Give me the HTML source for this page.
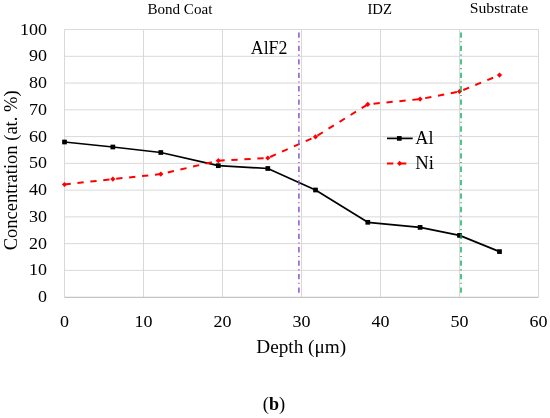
<!DOCTYPE html>
<html><head><meta charset="utf-8"><title>Concentration vs Depth</title>
<style>
html,body{margin:0;padding:0;background:#fff;overflow:hidden;}
svg{display:block;}
text{font-family:"Liberation Serif","DejaVu Serif",serif;fill:#000;}
</style></head>
<body>
<svg width="550" height="418" viewBox="0 0 550 418">
<rect width="550" height="418" fill="#fff"/>
<path d="M64.5 270.39H538.5 M64.5 243.63H538.5 M64.5 216.87H538.5 M64.5 190.11H538.5 M64.5 163.35H538.5 M64.5 136.59H538.5 M64.5 109.83H538.5 M64.5 83.07H538.5 M64.5 56.31H538.5 M64.5 29.55H538.5 M64.50 29.55V297.15 M143.50 29.55V297.15 M222.50 29.55V297.15 M301.50 29.55V297.15 M380.50 29.55V297.15 M459.50 29.55V297.15 M538.50 29.55V297.15" stroke="#d9d9d9" stroke-width="1" fill="none"/>
<path d="M64.5 297.3H538.5" stroke="#c4c4c4" stroke-width="1.2" fill="none"/>
<polyline points="64.50,142.00 112.85,147.00 160.80,152.50 218.30,165.70 267.80,168.50 315.50,190.00 367.80,222.30 420.10,227.40 459.50,235.40 499.50,251.60" fill="none" stroke="#000" stroke-width="1.7" stroke-linejoin="round"/>
<rect x="62.15" y="139.65" width="4.7" height="4.7" fill="#000"/>
<rect x="110.50" y="144.65" width="4.7" height="4.7" fill="#000"/>
<rect x="158.45" y="150.15" width="4.7" height="4.7" fill="#000"/>
<rect x="215.95" y="163.35" width="4.7" height="4.7" fill="#000"/>
<rect x="265.45" y="166.15" width="4.7" height="4.7" fill="#000"/>
<rect x="313.15" y="187.65" width="4.7" height="4.7" fill="#000"/>
<rect x="365.45" y="219.95" width="4.7" height="4.7" fill="#000"/>
<rect x="417.75" y="225.05" width="4.7" height="4.7" fill="#000"/>
<rect x="457.15" y="233.05" width="4.7" height="4.7" fill="#000"/>
<rect x="497.15" y="249.25" width="4.7" height="4.7" fill="#000"/>
<polyline points="64.50,184.50 112.85,179.10 160.80,174.10 218.30,160.70 267.80,158.00 315.50,136.80 367.80,104.30 420.10,99.10 459.50,91.50 499.50,75.10" fill="none" stroke="#ff0000" stroke-width="2" stroke-dasharray="6.3 6.7" stroke-linejoin="round"/>
<path d="M64.50 181.90L67.10 184.50L64.50 187.10L61.90 184.50Z" fill="#ff0000"/>
<path d="M112.85 176.50L115.45 179.10L112.85 181.70L110.25 179.10Z" fill="#ff0000"/>
<path d="M160.80 171.50L163.40 174.10L160.80 176.70L158.20 174.10Z" fill="#ff0000"/>
<path d="M218.30 158.10L220.90 160.70L218.30 163.30L215.70 160.70Z" fill="#ff0000"/>
<path d="M267.80 155.40L270.40 158.00L267.80 160.60L265.20 158.00Z" fill="#ff0000"/>
<path d="M315.50 134.20L318.10 136.80L315.50 139.40L312.90 136.80Z" fill="#ff0000"/>
<path d="M367.80 101.70L370.40 104.30L367.80 106.90L365.20 104.30Z" fill="#ff0000"/>
<path d="M420.10 96.50L422.70 99.10L420.10 101.70L417.50 99.10Z" fill="#ff0000"/>
<path d="M459.50 88.90L462.10 91.50L459.50 94.10L456.90 91.50Z" fill="#ff0000"/>
<path d="M499.50 72.50L502.10 75.10L499.50 77.70L496.90 75.10Z" fill="#ff0000"/>
<line x1="298.9" y1="29.55" x2="298.9" y2="296" stroke="#8647c8" stroke-width="1.4" stroke-dasharray="5.3 3.5 1.1 3.52" stroke-dashoffset="-2.85"/>
<line x1="461.0" y1="29.55" x2="461.0" y2="296" stroke="#00b050" stroke-width="1.4" stroke-dasharray="5.3 3.5 1.1 3.52" stroke-dashoffset="-2.85"/>
<text x="47.0" y="302.15" font-size="17" text-anchor="end" textLength="9.0" lengthAdjust="spacingAndGlyphs">0</text>
<text x="47.0" y="275.39" font-size="17" text-anchor="end" textLength="18.0" lengthAdjust="spacingAndGlyphs">10</text>
<text x="47.0" y="248.63" font-size="17" text-anchor="end" textLength="18.0" lengthAdjust="spacingAndGlyphs">20</text>
<text x="47.0" y="221.87" font-size="17" text-anchor="end" textLength="18.0" lengthAdjust="spacingAndGlyphs">30</text>
<text x="47.0" y="195.11" font-size="17" text-anchor="end" textLength="18.0" lengthAdjust="spacingAndGlyphs">40</text>
<text x="47.0" y="168.35" font-size="17" text-anchor="end" textLength="18.0" lengthAdjust="spacingAndGlyphs">50</text>
<text x="47.0" y="141.59" font-size="17" text-anchor="end" textLength="18.0" lengthAdjust="spacingAndGlyphs">60</text>
<text x="47.0" y="114.83" font-size="17" text-anchor="end" textLength="18.0" lengthAdjust="spacingAndGlyphs">70</text>
<text x="47.0" y="88.07" font-size="17" text-anchor="end" textLength="18.0" lengthAdjust="spacingAndGlyphs">80</text>
<text x="47.0" y="61.31" font-size="17" text-anchor="end" textLength="18.0" lengthAdjust="spacingAndGlyphs">90</text>
<text x="47.0" y="34.55" font-size="17" text-anchor="end" textLength="27.0" lengthAdjust="spacingAndGlyphs">100</text>
<text x="64.50" y="327.2" font-size="17" text-anchor="middle" textLength="9.0" lengthAdjust="spacingAndGlyphs">0</text>
<text x="143.50" y="327.2" font-size="17" text-anchor="middle" textLength="18.0" lengthAdjust="spacingAndGlyphs">10</text>
<text x="222.50" y="327.2" font-size="17" text-anchor="middle" textLength="18.0" lengthAdjust="spacingAndGlyphs">20</text>
<text x="301.50" y="327.2" font-size="17" text-anchor="middle" textLength="18.0" lengthAdjust="spacingAndGlyphs">30</text>
<text x="380.50" y="327.2" font-size="17" text-anchor="middle" textLength="18.0" lengthAdjust="spacingAndGlyphs">40</text>
<text x="459.50" y="327.2" font-size="17" text-anchor="middle" textLength="18.0" lengthAdjust="spacingAndGlyphs">50</text>
<text x="538.50" y="327.2" font-size="17" text-anchor="middle" textLength="18.0" lengthAdjust="spacingAndGlyphs">60</text>
<text x="256.3" y="353.3" font-size="18" textLength="89.9" lengthAdjust="spacingAndGlyphs">Depth (μm)</text>
<text transform="translate(17.1 250.3) rotate(-90)" x="0" y="0" font-size="17.8" textLength="159.9" lengthAdjust="spacingAndGlyphs">Concentration (at. %)</text>
<text x="147.4" y="13.6" font-size="14.6" textLength="65.0" lengthAdjust="spacingAndGlyphs">Bond Coat</text>
<text x="367.4" y="13.7" font-size="14.6" textLength="24.6" lengthAdjust="spacingAndGlyphs">IDZ</text>
<text x="469.8" y="13.4" font-size="15" textLength="58.4" lengthAdjust="spacingAndGlyphs">Substrate</text>
<text x="250.8" y="53.5" font-size="17.8" textLength="36.6" lengthAdjust="spacingAndGlyphs">AlF2</text>
<path d="M387 138.4H412.7" stroke="#000" stroke-width="1.7"/>
<rect x="396.95" y="136.05" width="4.7" height="4.7" fill="#000"/>
<path d="M387 163.4H412.7" stroke="#ff0000" stroke-width="2" stroke-dasharray="6.3 6.7"/>
<path d="M399.6 160.8L402.2 163.4L399.6 166L397 163.4Z" fill="#ff0000"/>
<text x="415.3" y="143.7" font-size="18" textLength="18.2" lengthAdjust="spacingAndGlyphs">Al</text>
<text x="415.2" y="168.8" font-size="18" textLength="18.7" lengthAdjust="spacingAndGlyphs">Ni</text>
<text x="262.8" y="409.9" font-size="19" textLength="22.4" lengthAdjust="spacingAndGlyphs">(<tspan font-weight="bold" font-size="18.5">b</tspan>)</text>
</svg>
</body></html>
